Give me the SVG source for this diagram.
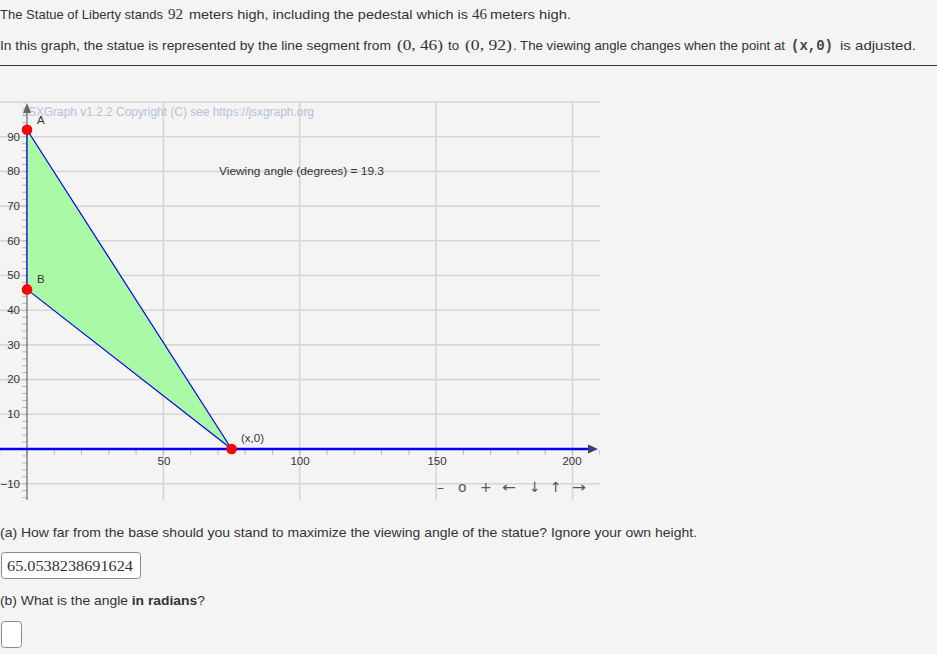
<svg xmlns="http://www.w3.org/2000/svg" width="937" height="654" viewBox="0 0 937 654">
<defs>
<style>
.t{font-family:"Liberation Sans",Arial,sans-serif;font-size:13.5px;fill:#333}
.m{font-family:"Liberation Serif","Times New Roman",serif;font-size:15px;fill:#333}
.mono{font-family:"Liberation Mono","Courier New",monospace;font-size:14px;font-weight:bold;fill:#444}
.lab{font-family:"Liberation Sans",Arial,sans-serif;font-size:11.5px;fill:#333}
.grid{stroke:#d6d6d6;stroke-width:1.6;fill:none}
.nav{font-family:"DejaVu Sans",sans-serif;font-size:14px;fill:#555}
.pt{fill:#ff0000}
.edge{stroke:#0000ee;stroke-width:1.2;fill:none}
</style>
<pattern id="ytick" patternUnits="userSpaceOnUse" x="0" y="448.5" width="5" height="6.94">
<rect x="0" y="0" width="5" height="1" fill="#b8b8b8"/>
</pattern>
<pattern id="xtick" patternUnits="userSpaceOnUse" x="26.5" y="0" width="27.275" height="10">
<rect x="0" y="0" width="1" height="10" fill="#b8b8b8"/>
</pattern>
</defs>
<rect x="0" y="0" width="937" height="654" fill="#f4f4f4"/>

<g id="header">
<text class="t" x="0" y="19" textLength="163" lengthAdjust="spacingAndGlyphs">The Statue of Liberty stands</text>
<text class="m" x="168" y="19">92</text>
<text class="t" x="189" y="19" textLength="279" lengthAdjust="spacingAndGlyphs">meters high, including the pedestal which is</text>
<text class="m" x="472" y="19">46</text>
<text class="t" x="490" y="19" textLength="81" lengthAdjust="spacingAndGlyphs">meters high.</text>
<text class="t" x="0" y="50" textLength="391" lengthAdjust="spacingAndGlyphs">In this graph, the statue is represented by the line segment from</text>
<text class="m" x="397" y="50" textLength="46" lengthAdjust="spacingAndGlyphs">(0, 46)</text>
<text class="t" x="448" y="50" textLength="11" lengthAdjust="spacingAndGlyphs">to</text>
<text class="m" x="465" y="50" textLength="47" lengthAdjust="spacingAndGlyphs">(0, 92)</text>
<text class="t" x="513" y="50" textLength="272" lengthAdjust="spacingAndGlyphs">. The viewing angle changes when the point at</text>
<text class="mono" x="791" y="50" textLength="42" lengthAdjust="spacingAndGlyphs">(x,0)</text>
<text class="t" x="840" y="50" textLength="76" lengthAdjust="spacingAndGlyphs">is adjusted.</text>
<line x1="0" y1="65.5" x2="937" y2="65.5" stroke="#333" stroke-width="1"/>
</g>

<g id="board">
<g id="grid">
<path class="grid" d="M0,102H600M0,136.7H600M0,171.4H600M0,206.1H600M0,240.8H600M0,275.5H600M0,310.2H600M0,344.9H600M0,379.6H600M0,414.3H600M0,483.7H600"/>
<path class="grid" d="M163.4,102V500M299.7,102V500M436.1,102V500M572.5,102V500"/>
</g>
<text x="22" y="115.5" font-family="'Liberation Sans',Arial,sans-serif" font-size="12" fill="#b3c3d9" textLength="292" lengthAdjust="spacingAndGlyphs">JSXGraph v1.2.2 Copyright (C) see https://jsxgraph.org</text>
<g id="axes">
<rect x="22" y="102" width="5" height="398" fill="url(#ytick)"/>
<rect x="0" y="450" width="600" height="5" fill="url(#xtick)"/>
<line x1="27" y1="500" x2="27" y2="110" stroke="#666" stroke-width="1.2"/>
<polygon points="27,103 23,113 31,113" fill="#666"/>
<line x1="0" y1="449" x2="592" y2="449" stroke="#0000ee" stroke-width="2.6"/>
<polygon points="598,449 588,444.5 588,453.5" fill="#3b3b7a"/>
</g>
<g id="ylabels">
<text class="lab" x="20" y="140.5" text-anchor="end">90</text>
<text class="lab" x="20" y="175.2" text-anchor="end">80</text>
<text class="lab" x="20" y="209.9" text-anchor="end">70</text>
<text class="lab" x="20" y="244.6" text-anchor="end">60</text>
<text class="lab" x="20" y="279.3" text-anchor="end">50</text>
<text class="lab" x="20" y="314" text-anchor="end">40</text>
<text class="lab" x="20" y="348.7" text-anchor="end">30</text>
<text class="lab" x="20" y="383.4" text-anchor="end">20</text>
<text class="lab" x="20" y="418.1" text-anchor="end">10</text>
<text class="lab" x="20" y="487.8" text-anchor="end">−10</text>
</g>
<g id="xlabels">
<text class="lab" x="164" y="464.5" text-anchor="middle">50</text>
<text class="lab" x="300" y="464.5" text-anchor="middle">100</text>
<text class="lab" x="437" y="464.5" text-anchor="middle">150</text>
<text class="lab" x="572" y="464.5" text-anchor="middle">200</text>
</g>
</g>

<g id="triangle">
<polygon points="27,129.8 27,289.4 231.6,449" fill="#a9f9a7"/>
</g>
<g id="connectors">
<line class="edge" x1="27" y1="129.8" x2="27" y2="289.4"/>
<line class="edge" x1="27" y1="129.8" x2="231.6" y2="449"/>
<line class="edge" x1="27" y1="289.4" x2="231.6" y2="449"/>
</g>
<g id="pointA">
<circle class="pt" cx="27" cy="129.8" r="5.3"/>
<text class="lab" x="37" y="123.5" font-size="12">A</text>
</g>
<g id="pointB">
<circle class="pt" cx="27" cy="289.4" r="5.3"/>
<text class="lab" x="37" y="283">B</text>
</g>
<g id="pointX">
<circle class="pt" cx="231.6" cy="449" r="5.3"/>
<text class="lab" x="241" y="442" fill="#555">(x,0)</text>
</g>
<g id="angleText">
<text class="lab" x="219" y="175" textLength="165" lengthAdjust="spacingAndGlyphs">Viewing angle (degrees) = 19.3</text>
</g>
<g id="navigation">
<text class="nav" x="437" y="492">–</text>
<text class="nav" x="458" y="492">o</text>
<text class="nav" x="480" y="492">+</text>
<text class="nav" x="502" y="492" textLength="14" lengthAdjust="spacingAndGlyphs">←</text>
<text class="nav" x="529" y="492">↓</text>
<text class="nav" x="550" y="492">↑</text>
<text class="nav" x="572" y="492" textLength="14" lengthAdjust="spacingAndGlyphs">→</text>
</g>

<g id="questions">
<text class="t" x="0" y="537" textLength="697" lengthAdjust="spacingAndGlyphs">(a) How far from the base should you stand to maximize the viewing angle of the statue? Ignore your own height.</text>
<rect x="1.5" y="552.5" width="139" height="26" rx="3" fill="#ffffff" stroke="#8a8a8a" stroke-width="1"/>
<text x="7" y="571" font-family="'Liberation Serif','Times New Roman',serif" font-size="15" fill="#333" textLength="126" lengthAdjust="spacingAndGlyphs">65.0538238691624</text>
<text class="t" x="0" y="605" textLength="205" lengthAdjust="spacingAndGlyphs">(b) What is the angle <tspan font-weight="bold">in radians</tspan>?</text>
<rect x="1.5" y="621.5" width="20" height="26" rx="3" fill="#ffffff" stroke="#8a8a8a" stroke-width="1"/>
</g>
</svg>
